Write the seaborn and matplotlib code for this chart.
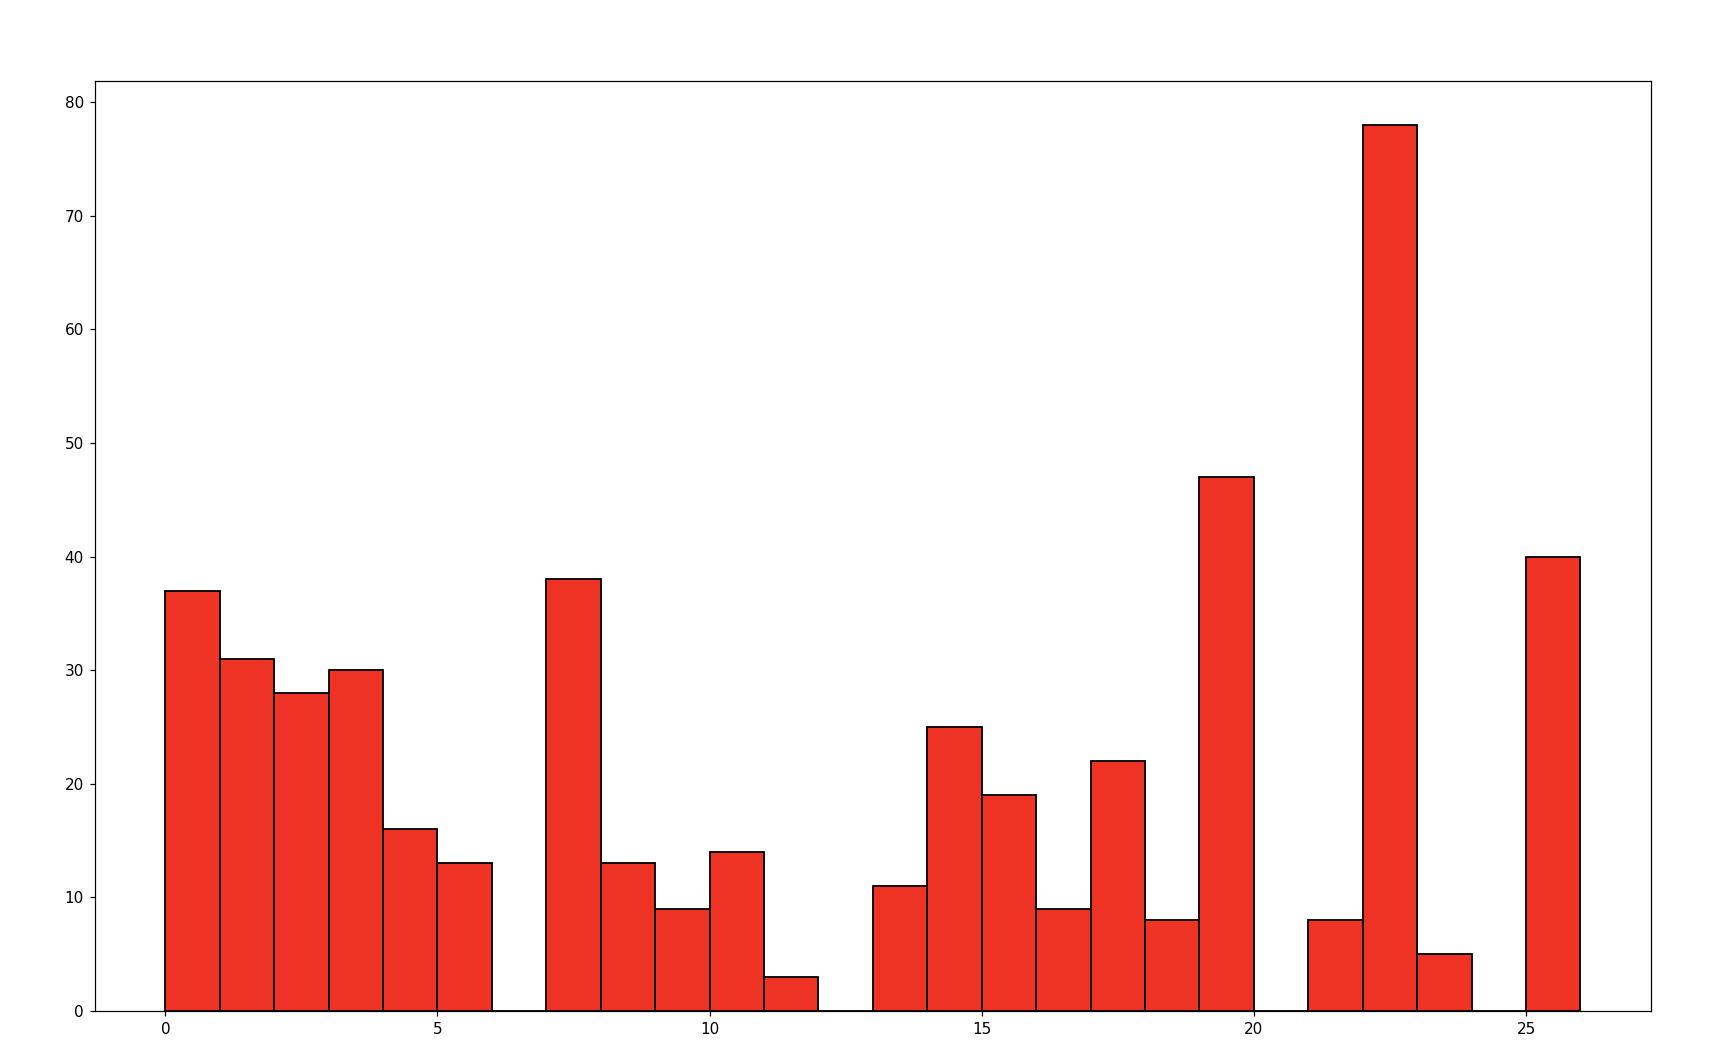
import matplotlib
matplotlib.use("Agg")
import matplotlib.pyplot as plt
import seaborn as sns
import pandas as pd

bin_starts = list(range(26))
counts = [37, 31, 28, 30, 16, 13, 0, 38, 13, 9, 14, 3, 0, 11, 25, 19, 9, 22, 8, 47, 0, 8, 78, 5, 0, 40]

df = pd.DataFrame({"x": [b + 0.5 for b in bin_starts], "w": counts})

fig = plt.figure(figsize=(1720/110, 1062/110), dpi=110)
ax = fig.add_axes([0.055, 0.048, 0.905, 0.876])
sns.histplot(data=df, x="x", weights="w", bins=list(range(27)), color="#EE3224",
             alpha=1, edgecolor="black", linewidth=1.2, ax=ax)
ax.set_xlabel("")
ax.set_ylabel("")
ax.set_xticks([0, 5, 10, 15, 20, 25])
fig.savefig("out.png", dpi=110)
